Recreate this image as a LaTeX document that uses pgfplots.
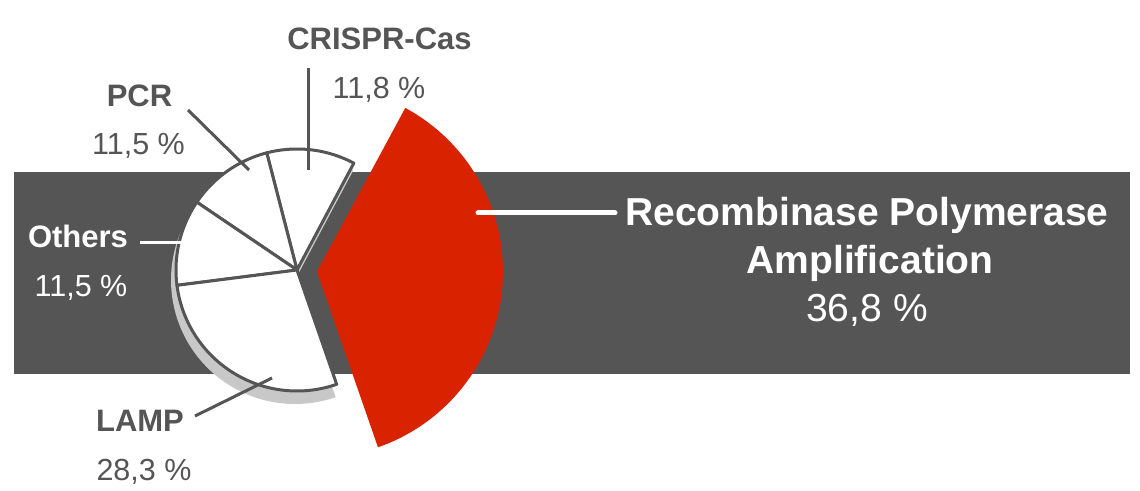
\documentclass[border=0pt]{standalone}
\usepackage{fontspec}
\setmainfont{Liberation Sans}
\usepackage{pgfplots}
\usepackage{pgfplotstable}
\pgfplotsset{compat=1.18}
\definecolor{band}{RGB}{85,85,85}
\definecolor{txt}{RGB}{85,85,85}
\definecolor{pieline}{RGB}{85,85,85}
\definecolor{shadow}{RGB}{200,200,200}
\definecolor{rpared}{RGB}{217,34,0}

\pgfplotstableread{
name value
CRISPR 11.8
PCR 11.5
Others 11.5
LAMP 28.3
RPA 36.8
}\piedata

\begin{document}%
\begin{tikzpicture}
\pgfplotstablegetelem{0}{value}\of\piedata \let\vA\pgfplotsretval
\pgfplotstablegetelem{1}{value}\of\piedata \let\vB\pgfplotsretval
\pgfplotstablegetelem{2}{value}\of\piedata \let\vC\pgfplotsretval
\pgfplotstablegetelem{3}{value}\of\piedata \let\vD\pgfplotsretval
\pgfplotstablegetelem{4}{value}\of\piedata \let\vE\pgfplotsretval
\pgfmathsetmacro{\aO}{62}
\pgfmathsetmacro{\aA}{\aO+3.6*\vA}
\pgfmathsetmacro{\aB}{\aA+3.6*\vB}
\pgfmathsetmacro{\aC}{\aB+3.6*\vC}
\pgfmathsetmacro{\aD}{\aC+3.6*\vD}
\pgfmathsetmacro{\aE}{\aD+3.6*\vE}
\pgfmathsetmacro{\aMid}{(\aD+\aE)/2}
\pgfmathsetmacro{\rcx}{297+20*cos(\aMid)}
\pgfmathsetmacro{\rcy}{221+20*sin(\aMid)}
\begin{axis}[scale only axis, width=1140bp, height=491bp,
  xmin=0, xmax=1140, ymin=0, ymax=491, hide axis, clip=false]
% background and band
\addplot[fill=white, draw=none] coordinates {(0,0) (1140,0) (1140,491) (0,491)} -- cycle;
\addplot[fill=band, draw=none] coordinates {(14,117) (1130,117) (1130,319) (14,319)} -- cycle;
% shadow of the white part
\addplot[fill=shadow, draw=none, domain=\aO:\aD, samples=120]
  ({295+124*cos(x)},{211+124*sin(x)}) -- (axis cs:295,211) -- cycle;
% white slices
\addplot[fill=white, draw=pieline, line width=3bp, line join=round, domain=\aO:\aA, samples=40]
  ({297+121*cos(x)},{221+121*sin(x)}) -- (axis cs:297,221) -- cycle;
\addplot[fill=white, draw=pieline, line width=3bp, line join=round, domain=\aA:\aB, samples=40]
  ({297+121*cos(x)},{221+121*sin(x)}) -- (axis cs:297,221) -- cycle;
\addplot[fill=white, draw=pieline, line width=3bp, line join=round, domain=\aB:\aC, samples=40]
  ({297+121*cos(x)},{221+121*sin(x)}) -- (axis cs:297,221) -- cycle;
\addplot[fill=white, draw=pieline, line width=3bp, line join=round, domain=\aC:\aD, samples=80]
  ({297+121*cos(x)},{221+121*sin(x)}) -- (axis cs:297,221) -- cycle;
% exploded red slice
\addplot[fill=rpared, draw=none, domain=\aD:\aE, samples=120]
  ({\rcx+186*cos(x)},{\rcy+186*sin(x)}) -- (axis cs:\rcx,\rcy) -- cycle;
% leader lines
\addplot[pieline, line width=3bp] coordinates {(308,423) (308,321)};
\addplot[pieline, line width=3bp] coordinates {(188,381) (249,321)};
\addplot[white, line width=3bp] coordinates {(140,248) (181,248)};
\addplot[pieline, line width=3bp] coordinates {(195,75) (272,113)};
\addplot[white, line width=5bp, line cap=round] coordinates {(478,278) (615,278)};
% labels
\tikzset{lbl/.style={anchor=base, inner sep=0pt}}
\node[lbl, text=txt, font=\fontsize{31bp}{31bp}\selectfont\bfseries] at (axis cs:379.5,441) {CRISPR-Cas};
\node[lbl, text=txt, font=\fontsize{30.5bp}{31bp}\selectfont] at (axis cs:379,392) {11,8 \%};
\node[lbl, text=txt, font=\fontsize{31bp}{31bp}\selectfont\bfseries] at (axis cs:139.5,384) {PCR};
\node[lbl, text=txt, font=\fontsize{30.5bp}{31bp}\selectfont] at (axis cs:138.5,336) {11,5 \%};
\node[lbl, text=white, font=\fontsize{31bp}{31bp}\selectfont\bfseries] at (axis cs:78,243) {Others};
\node[lbl, text=white, font=\fontsize{30.5bp}{31bp}\selectfont] at (axis cs:81,194) {11,5 \%};
\node[lbl, text=txt, font=\fontsize{31bp}{31bp}\selectfont\bfseries] at (axis cs:140,59) {LAMP};
\node[lbl, text=txt, font=\fontsize{30.5bp}{31bp}\selectfont] at (axis cs:144,11) {28,3 \%};
\node[lbl, text=white, font=\fontsize{39bp}{39bp}\selectfont\bfseries] at (axis cs:867,265) {Recombinase Polymerase};
\node[lbl, text=white, font=\fontsize{39bp}{39bp}\selectfont\bfseries] at (axis cs:870,217) {Amplification};
\node[lbl, text=white, font=\fontsize{39bp}{39bp}\selectfont] at (axis cs:867,169) {36,8 \%};
\end{axis}
\end{tikzpicture}%
\end{document}
